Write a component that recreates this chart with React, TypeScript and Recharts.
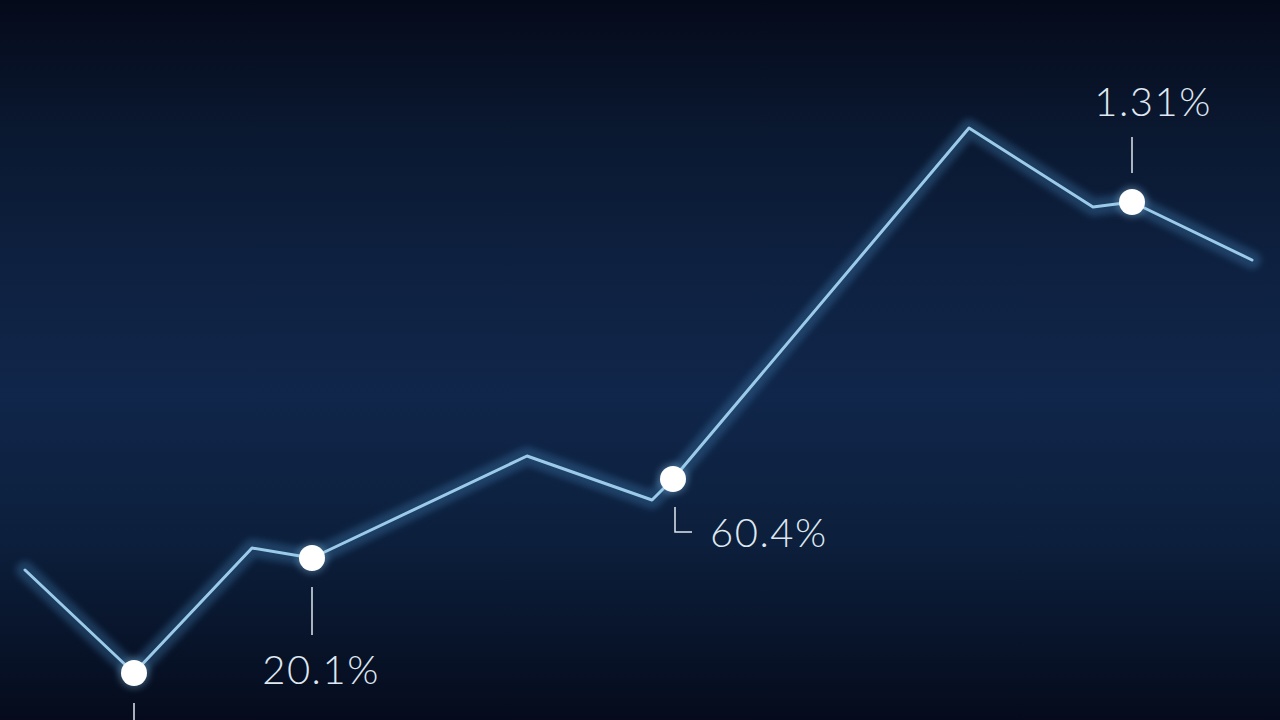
import { LineChart, Line, XAxis, YAxis, ReferenceDot } from 'recharts'

// time positions (weeks) and index level of each vertex
const weeks = [2.5, 13.4, 25.2, 31.2, 52.7, 65.2, 67.3, 96.9, 109.3, 113.2, 125.2]
const levels = [15.0, 4.7, 17.2, 16.2, 26.4, 22.0, 24.1, 59.2, 51.3, 51.8, 46.0]
// callout text for the highlighted vertices ('' = no text)
const callouts = ['', '', '', '20.1%', '', '', '60.4%', '', '', '1.31%', '']
const marked = [false, true, false, true, false, false, true, false, false, true, false]

const data = weeks.map((w, i) => ({
  week: w,
  level: levels[i],
  label: callouts[i],
  marked: marked[i]
}))

const W = 1280
const H = 720
const textColor = '#dfe7f0'
const font = 'Lato, "Open Sans", sans-serif'
const textProps = {
  fill: textColor,
  fontSize: 40,
  fontWeight: 300,
  fontFamily: font,
  letterSpacing: 1.5
}

function Dot(props: any) {
  const { cx, cy, payload, index } = props
  if (!payload.marked) return <g key={index} />
  return (
    <g key={index}>
      <circle cx={cx} cy={cy} r={16} fill="#8cc4ea" opacity={0.3} filter="url(#blur)" />
      <circle cx={cx} cy={cy} r={13} fill="#ffffff" />
    </g>
  )
}

function Callout(props: any) {
  const { cx, cy, payload } = props
  if (!payload.label) {
    // label sits below, off the bottom edge
    return <line x1={cx} y1={cy + 30} x2={cx} y2={cy + 80} stroke={textColor} strokeWidth={1.5} />
  }
  if (payload.label === '20.1%') {
    return (
      <g>
        <line x1={cx} y1={cy + 29} x2={cx} y2={cy + 77} stroke={textColor} strokeWidth={1.5} />
        <text x={cx + 9} y={cy + 126} textAnchor="middle" {...textProps}>
          {payload.label}
        </text>
      </g>
    )
  }
  if (payload.label === '60.4%') {
    return (
      <g>
        <polyline
          points={`${cx + 2},${cy + 28} ${cx + 2},${cy + 53} ${cx + 19},${cy + 53}`}
          fill="none"
          stroke={textColor}
          strokeWidth={1.5}
        />
        <text x={cx + 37} y={cy + 68} {...textProps}>
          {payload.label}
        </text>
      </g>
    )
  }
  return (
    <g>
      <line x1={cx} y1={cy - 29} x2={cx} y2={cy - 65} stroke={textColor} strokeWidth={1.5} />
      <text x={cx + 21} y={cy - 86} textAnchor="middle" {...textProps}>
        {payload.label}
      </text>
    </g>
  )
}

export default function App() {
  return (
    <div
      style={{
        width: W,
        height: H,
        position: 'fixed',
        left: 0,
        top: 0,
        overflow: 'hidden',
        background:
          'linear-gradient(180deg, #050a1a 0%, #0a1830 18%, #0e2141 38%, #10264a 55%, #0c1f3c 75%, #050b1c 100%)'
      }}
    >
      <LineChart width={W} height={H} data={data} margin={{ top: 0, right: 0, bottom: 0, left: 0 }}>
        <defs>
          <filter id="glow" x="-10%" y="-10%" width="120%" height="120%">
            <feGaussianBlur stdDeviation="3" />
          </filter>
          <filter id="blur" x="-50%" y="-50%" width="200%" height="200%">
            <feGaussianBlur stdDeviation="3" />
          </filter>
        </defs>
        <XAxis dataKey="week" type="number" domain={[0, 128]} hide />
        <YAxis dataKey="level" type="number" domain={[0, 72]} hide />
        <Line
          dataKey="level"
          stroke="#3a72a2"
          strokeWidth={18}
          strokeOpacity={0.4}
          strokeLinejoin="round"
          strokeLinecap="round"
          dot={false}
          activeDot={false}
          filter="url(#glow)"
          isAnimationActive={false}
        />
        <Line
          dataKey="level"
          stroke="#9ccbea"
          strokeWidth={3}
          strokeLinejoin="round"
          strokeLinecap="round"
          dot={Dot}
          activeDot={false}
          isAnimationActive={false}
        />
        {data
          .filter((d) => d.marked)
          .map((d) => (
            <ReferenceDot
              key={d.week}
              x={d.week}
              y={d.level}
              r={0}
              ifOverflow="visible"
              shape={(p: any) => <Callout {...p} payload={d} />}
            />
          ))}
      </LineChart>
    </div>
  )
}
